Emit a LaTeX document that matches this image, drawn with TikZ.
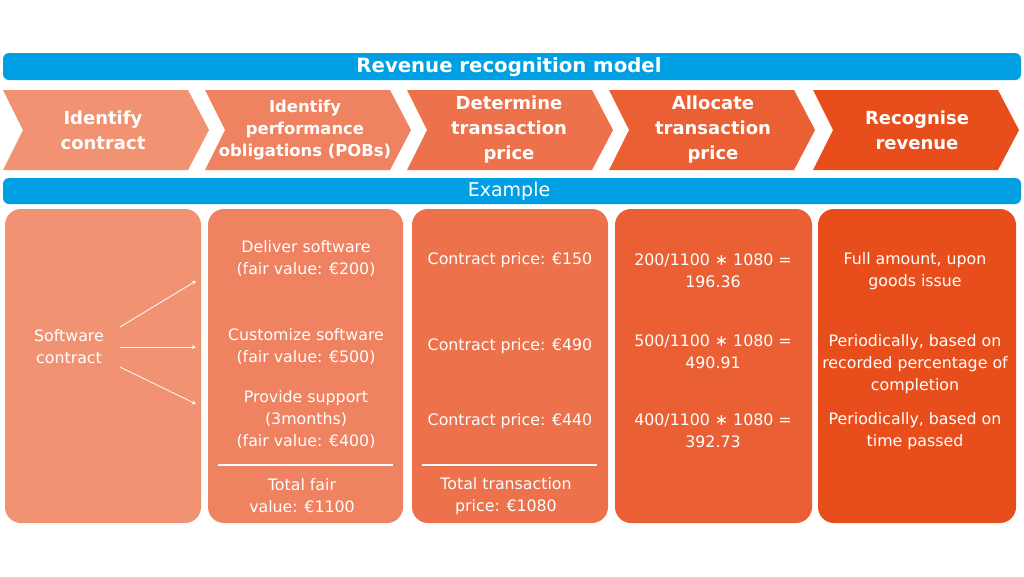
\documentclass[tikz,border=0pt]{standalone}
\usepackage{fontspec}
\setmainfont{DejaVu Sans}
\begin{document}
\begin{tikzpicture}[x=1pt,y=-1pt,
  bar/.style={fill=blue1,rounded corners=6pt,draw=none},
  box/.style={rounded corners=16pt,draw=none},
  tx/.style={text=white,align=center,font=\fontsize{15.8}{22}\selectfont},
  ht/.style={text=white,align=center,font=\fontsize{18}{25}\selectfont\bfseries},
  arr/.style={white,thick,->,>=stealth}]
\definecolor{blue1}{HTML}{009FE3}
\definecolor{c1}{HTML}{F19372}
\definecolor{c2}{HTML}{EF8260}
\definecolor{c3}{HTML}{ED714A}
\definecolor{c4}{HTML}{EA5F33}
\definecolor{c5}{HTML}{E84E1C}
\useasboundingbox (0,0) rectangle (1024,576);
\fill[white] (0,0) rectangle (1024,576);
\fill[bar] (3,53) rectangle (1021,80);
\node[ht,font=\fontsize{19.7}{22}\selectfont\bfseries] (t) at (509,67) {Revenue recognition model};
% chevrons
\foreach \x/\c in {3/c1,205/c2,407/c3,609/c4,813/c5}{
  \fill[\c] (\x,90) -- (\x+185,90) -- (\x+206,130) -- (\x+185,170) -- (\x,170) -- (\x+20,130) -- cycle;}
\node[ht] (h1) at (103,130) {Identify\\contract};
\node[ht,font=\fontsize{16.4}{22}\selectfont\bfseries] (h2) at (305,130) {Identify\\performance\\obligations (POBs)};
\node[ht] (h3) at (509,130) {Determine\\transaction\\price};
\node[ht] (h4) at (713,130) {Allocate\\transaction\\price};
\node[ht] (h5) at (917,130) {Recognise\\revenue};
\fill[bar] (3,178) rectangle (1021,204);
\node[tx,font=\fontsize{19}{22}\selectfont] (ex) at (509,191) {Example};
% boxes
\fill[box,c1] (5,209) rectangle (201,523);
\fill[box,c2] (208,209) rectangle (403,523);
\fill[box,c3] (412,209) rectangle (608,523);
\fill[box,c4] (615,209) rectangle (812,523);
\fill[box,c5] (818,209) rectangle (1016,523);
\node[tx] (sc) at (69,347) {Software\\contract};
\node[tx] (d1) at (306,259) {Deliver software\\(fair value: €200)};
\node[tx] (d2) at (306,347) {Customize software\\(fair value: €500)};
\node[tx] (d3) at (306,420) {Provide support\\(3months)\\(fair value: €400)};
\node[tx] (d4) at (302,496) {Total fair\\value: €1100};
\coordinate (a0) at (120,327); \coordinate (b0) at (120,347); \coordinate (c0) at (120,367);
\coordinate (a1) at (196,281); \coordinate (b1) at (196,347); \coordinate (c1p) at (196,404);
\draw[arr] (a0) -- (a1); \draw[arr] (b0) -- (b1); \draw[arr] (c0) -- (c1p);
\coordinate (l1) at (218,465); \coordinate (l2) at (393,465);
\coordinate (l3) at (422,465); \coordinate (l4) at (597,465);
\draw[white,line width=2pt] (l1) -- (l2); \draw[white,line width=2pt] (l3) -- (l4);
\node[tx] (p1) at (510,260) {Contract price: €150};
\node[tx] (p2) at (510,346) {Contract price: €490};
\node[tx] (p3) at (510,421) {Contract price: €440};
\node[tx] (p4) at (506,496) {Total transaction\\price: €1080};
\node[tx] (q1) at (713,271) {200/1100 ∗ 1080 =\\196.36};
\node[tx] (q2) at (713,352) {500/1100 ∗ 1080 =\\490.91};
\node[tx] (q3) at (713,431) {400/1100 ∗ 1080 =\\392.73};
\node[tx] (r1) at (915,271) {Full amount, upon\\goods issue};
\node[tx] (r2) at (915,364) {Periodically, based on\\recorded percentage of\\completion};
\node[tx] (r3) at (915,431) {Periodically, based on\\time passed};
\end{tikzpicture}
\end{document}
